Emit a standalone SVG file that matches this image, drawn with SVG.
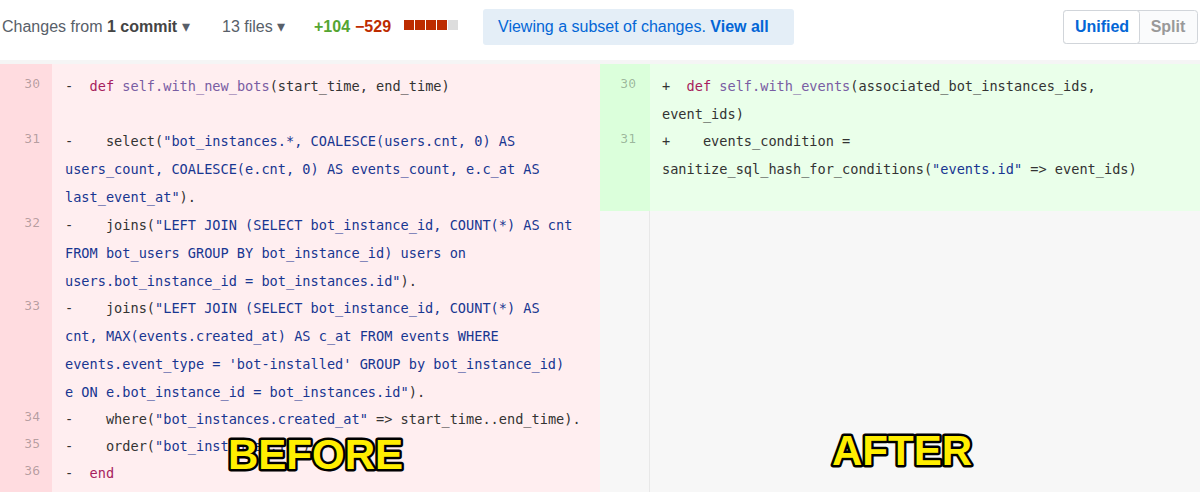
<svg xmlns="http://www.w3.org/2000/svg" width="1200" height="492" viewBox="0 0 1200 492">
<style>
.ui{font-family:"Liberation Sans",Arial,sans-serif;font-size:16px;fill:#586069}
.c{font-family:"DejaVu Sans Mono",monospace;font-size:13.6px;fill:#333}
.n{font-family:"DejaVu Sans Mono",monospace;font-size:13px;fill:rgba(0,0,0,0.3);text-anchor:end}
.k{fill:#a71d5d}.f{fill:#795da3}.s{fill:#183691}
.big{font-family:"Liberation Sans",Arial,sans-serif;font-weight:bold;font-size:42px;fill:#ffee00;stroke:#000;stroke-width:5;paint-order:stroke;stroke-linejoin:round}
</style>
<rect width="1200" height="492" fill="#fff"/>
<g id="header">
<text class="ui" x="2" y="32">Changes from <tspan font-weight="bold" style="fill:#444">1 commit</tspan> ▾</text>
<text class="ui" x="222" y="32">13 files ▾</text>
<text class="ui" x="314" y="32" font-weight="bold" style="fill:#55a532">+104</text>
<text class="ui" x="355" y="32" font-weight="bold" style="fill:#bd2c00">−529</text>
<g fill="#bd2c00"><rect x="404" y="20" width="10" height="10"/><rect x="415" y="20" width="10" height="10"/><rect x="426" y="20" width="10" height="10"/><rect x="437" y="20" width="10" height="10"/></g>
<rect x="448" y="20" width="10" height="10" fill="#ddd"/>
<rect x="483" y="9" width="311" height="36" rx="3" fill="#e4eef7"/>
<text class="ui" x="498" y="32" style="fill:#0366d6">Viewing a subset of changes. <tspan font-weight="bold">View all</tspan></text>
<rect x="1063.500" y="10.500" width="134" height="33" rx="3" fill="#fafbfc" stroke="#d1d5da"/>
<rect x="1063.500" y="10.500" width="76" height="33" rx="3" fill="#fff" stroke="#d1d5da"/>
<text class="ui" x="1102" y="32" text-anchor="middle" font-size="15" font-weight="bold" style="fill:#0366d6">Unified</text>
<text class="ui" x="1168" y="32" text-anchor="middle" font-size="15" font-weight="bold" style="fill:#999">Split</text>
</g>
<rect x="0" y="60" width="1200" height="6" fill="#eee" opacity="0.6"/>
<g id="left">
<rect x="0" y="64" width="600" height="428" fill="#ffeef0"/>
<rect x="0" y="64" width="52" height="428" fill="#ffdce0"/>
<text class="n" x="40" y="88">30</text><text class="n" x="40" y="143">31</text><text class="n" x="40" y="227">32</text><text class="n" x="40" y="310">33</text><text class="n" x="40" y="421">34</text><text class="n" x="40" y="448">35</text><text class="n" x="40" y="475">36</text>
<text class="c" x="65" y="91" xml:space="preserve">-  <tspan class="k">def</tspan> <tspan class="f">self.with_new_bots</tspan>(start_time, end_time)</text>
<text class="c" x="65" y="146" xml:space="preserve">-    select(<tspan class="s">"bot_instances.*, COALESCE(users.cnt, 0) AS</tspan></text>
<text class="c s" x="65" y="174">users_count, COALESCE(e.cnt, 0) AS events_count, e.c_at AS</text>
<text class="c" x="65" y="202"><tspan class="s">last_event_at"</tspan>).</text>
<text class="c" x="65" y="230" xml:space="preserve">-    joins(<tspan class="s">"LEFT JOIN (SELECT bot_instance_id, COUNT(*) AS cnt</tspan></text>
<text class="c s" x="65" y="258">FROM bot_users GROUP BY bot_instance_id) users on</text>
<text class="c" x="65" y="286"><tspan class="s">users.bot_instance_id = bot_instances.id"</tspan>).</text>
<text class="c" x="65" y="313" xml:space="preserve">-    joins(<tspan class="s">"LEFT JOIN (SELECT bot_instance_id, COUNT(*) AS</tspan></text>
<text class="c s" x="65" y="341">cnt, MAX(events.created_at) AS c_at FROM events WHERE</text>
<text class="c s" x="65" y="369">events.event_type = 'bot-installed' GROUP by bot_instance_id)</text>
<text class="c" x="65" y="397"><tspan class="s">e ON e.bot_instance_id = bot_instances.id"</tspan>).</text>
<text class="c" x="65" y="424" xml:space="preserve">-    where(<tspan class="s">"bot_instances.created_at"</tspan> =&gt; start_time..end_time).</text>
<text class="c" x="65" y="451" xml:space="preserve">-    order(<tspan class="s">"bot_instances.id"</tspan>)</text>
<text class="c" x="65" y="478" xml:space="preserve">-  <tspan class="k">end</tspan></text>
</g>
<g id="right">
<rect x="600" y="64" width="600" height="428" fill="#f7f7f7"/>
<line x1="649.500" y1="64" x2="649.500" y2="492" stroke="#e8e8e8"/>
<rect x="600" y="64" width="600" height="147" fill="#eaffea"/>
<rect x="600" y="64" width="50" height="147" fill="#dbffdb"/>
<text class="n" x="636" y="88">30</text><text class="n" x="636" y="143">31</text>
<text class="c" x="662" y="91" xml:space="preserve">+  <tspan class="k">def</tspan> <tspan class="f">self.with_events</tspan>(associated_bot_instances_ids,</text>
<text class="c" x="662" y="119">event_ids)</text>
<text class="c" x="662" y="146" xml:space="preserve">+    events_condition =</text>
<text class="c" x="662" y="174">sanitize_sql_hash_for_conditions(<tspan class="s">"events.id"</tspan> =&gt; event_ids)</text>
</g>
<g id="labels">
<text class="big" x="228" y="469">BEFORE</text>
<text class="big" x="832" y="465">AFTER</text>
</g>
</svg>
